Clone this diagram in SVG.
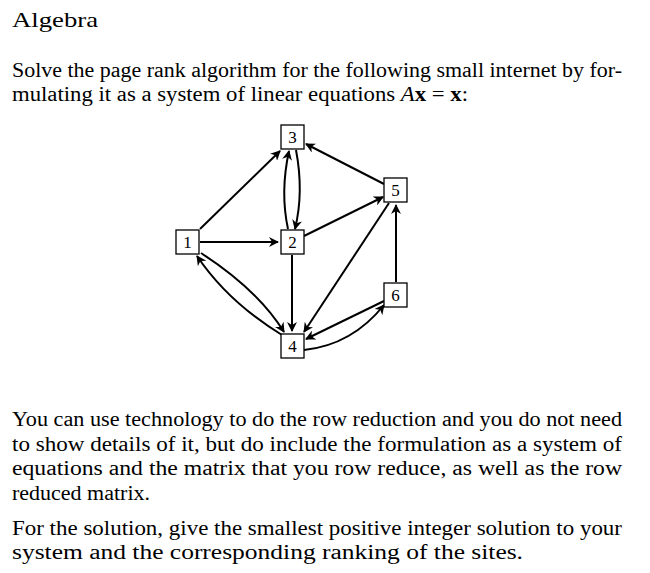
<svg xmlns="http://www.w3.org/2000/svg" width="650" height="573" viewBox="0 0 650 573">
<style>
text{font-family:"Liberation Serif","DejaVu Serif",serif;fill:#000}
.b{font-size:20px}
.n rect{fill:#fff;stroke:#000;stroke-width:1.3}
.n text{font-size:17px;text-anchor:middle}
#edges path{fill:none;stroke:#000;stroke-width:2;marker-end:url(#a)}
</style>
<defs><marker id="a" markerWidth="12" markerHeight="10" refX="9" refY="5" orient="auto" markerUnits="userSpaceOnUse"><path d="M0,0 L10,5 L0,10 L3,5 Z" fill="#000"/></marker></defs>
<rect width="650" height="573" fill="#fff"/>
<text x="12" y="27" style="font-size:22px" textLength="86" lengthAdjust="spacingAndGlyphs">Algebra</text>
<text class="b" x="12" y="77" textLength="610" lengthAdjust="spacingAndGlyphs">Solve the page rank algorithm for the following small internet by for-</text>
<text class="b" x="12" y="101" textLength="456" lengthAdjust="spacingAndGlyphs">mulating it as a system of linear equations <tspan font-style="italic">A</tspan><tspan font-weight="bold">x</tspan> = <tspan font-weight="bold">x</tspan>:</text>
<g id="edges">
<path d="M200,229 L280,151"/>
<path d="M200,242 L278,242"/>
<path d="M304,236 L383,197"/>
<path d="M384,184 L306,144"/>
<path d="M292,255 L292,331"/>
<path d="M389,203 L304,332"/>
<path d="M396,282 L396,205"/>
<path d="M384,301 L306,339"/>
<path d="M304,350 Q352,345 384,305"/>
<path d="M201,253 Q258,290 284,332"/>
<path d="M282,335 Q228,302 197,256"/>
<path d="M296,150 Q304,192 295,229"/>
<path d="M288,229 Q280,192 289,151"/>
</g>
<g id="n1" class="n"><rect x="176" y="230" width="23" height="24"/><text x="187.5" y="248">1</text></g>
<g id="n2" class="n"><rect x="281" y="230" width="23" height="24"/><text x="292.5" y="248">2</text></g>
<g id="n3" class="n"><rect x="281" y="125" width="23" height="24"/><text x="292.5" y="143">3</text></g>
<g id="n4" class="n"><rect x="281" y="334" width="23" height="24"/><text x="292.5" y="352">4</text></g>
<g id="n5" class="n"><rect x="384" y="178" width="23" height="24"/><text x="395.5" y="196">5</text></g>
<g id="n6" class="n"><rect x="384" y="283" width="23" height="24"/><text x="395.5" y="301">6</text></g>
<text class="b" x="12" y="426" textLength="610" lengthAdjust="spacingAndGlyphs">You can use technology to do the row reduction and you do not need</text>
<text class="b" x="12" y="451" textLength="610" lengthAdjust="spacingAndGlyphs">to show details of it, but do include the formulation as a system of</text>
<text class="b" x="12" y="475" textLength="610" lengthAdjust="spacingAndGlyphs">equations and the matrix that you row reduce, as well as the row</text>
<text class="b" x="12" y="500" textLength="138" lengthAdjust="spacingAndGlyphs">reduced matrix.</text>
<text class="b" x="12" y="535" textLength="610" lengthAdjust="spacingAndGlyphs">For the solution, give the smallest positive integer solution to your</text>
<text class="b" x="12" y="559" textLength="511" lengthAdjust="spacingAndGlyphs">system and the corresponding ranking of the sites.</text>
</svg>
